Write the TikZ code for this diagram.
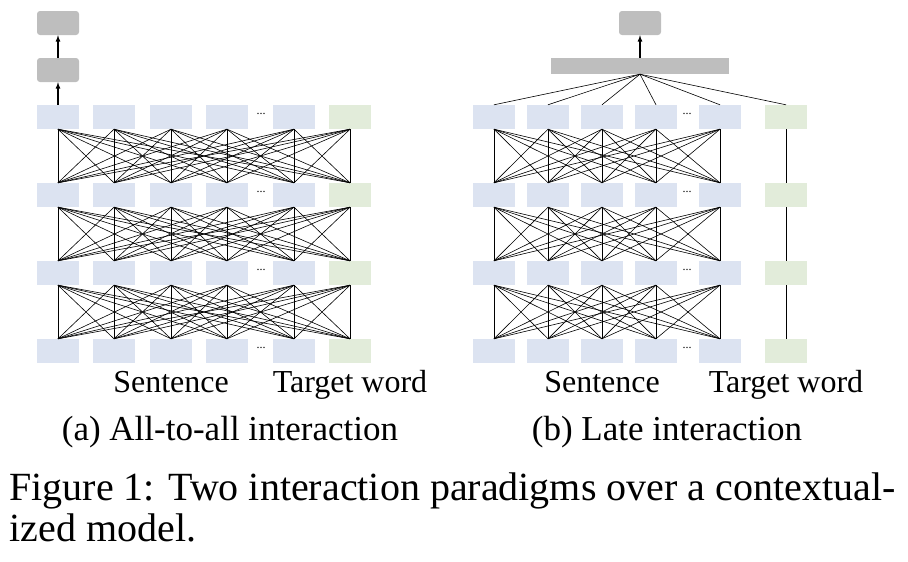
\documentclass[tikz,border=0pt]{standalone}
\usepackage{fontspec}
\setmainfont{Liberation Serif}
\usetikzlibrary{positioning, arrows}
\definecolor{tokblue}{RGB}{220,227,241}
\definecolor{tokgreen}{RGB}{226,236,218}
\definecolor{outgray}{RGB}{190,190,190}
\tikzset{
	tok/.style={minimum width=42pt, minimum height=24pt, inner sep=0pt},
	sent/.style={tok, fill=tokblue},
	targ/.style={tok, fill=tokgreen},
	outbox/.style={tok, fill=outgray, rounded corners=3pt},
	link/.style={line width=0.6pt},
	dots/.style={font=\fontsize{12}{12}\selectfont},
	lbl/.style={font=\fontsize{32}{36}\selectfont, anchor=base},
	sublbl/.style={font=\fontsize{35}{40}\selectfont, anchor=base},
	figcap/.style={font=\fontsize{40}{44}\selectfont, anchor=base west}
}
\begin{document}
\begin{tikzpicture}[x=1pt, y=-1pt]
	\useasboundingbox (0,0) rectangle (908,562);

	% (a) All-to-all
	\foreach \r/\y in {1/117, 2/195, 3/273, 4/351} {
		\foreach \c/\x in {1/58, 2/114, 3/171, 4/227, 5/294} {
			\node[sent] (a\r\c) at (\x,\y) {};
		}
		\node[targ] (a\r6) at (350,\y) {};
		\node[dots] (ad\r) at (261,\y-3) {...};
	}
	\foreach \r/\s in {1/2, 2/3, 3/4}
		\foreach \i in {1,...,6}
			\foreach \j in {1,...,6}
				\draw[link] (a\r\i.south) -- (a\s\j.north);
	\node[outbox] (ah) at (58,70) {};
	\node[outbox] (ao) at (58,23) {};
	\draw[-latex, line width=1.2pt] (a11.north) -- (ah.south);
	\draw[-latex, line width=1.2pt] (ah.north) -- (ao.south);
	\node[lbl] (asent) at (171,392) {Sentence};
	\node[lbl] (atarg) at (350,392) {Target word};
	\node[sublbl] (acap) at (230,440) {(a) All-to-all interaction};

	% (b) Late interaction
	\foreach \r/\y in {1/117, 2/195, 3/273, 4/351} {
		\foreach \c/\x in {1/494, 2/548, 3/602, 4/656, 5/720} {
			\node[sent] (b\r\c) at (\x,\y) {};
		}
		\node[targ] (b\r6) at (786,\y) {};
		\node[dots] (bd\r) at (687,\y-3) {...};
	}
	\foreach \r/\s in {1/2, 2/3, 3/4}
		\foreach \i in {1,...,5}
			\foreach \j in {1,...,5}
				\draw[link] (b\r\i.south) -- (b\s\j.north);
	\draw[link] (b16.south) -- (b26.north) (b26.south) -- (b36.north) (b36.south) -- (b46.north);
	\node[fill=outgray, minimum width=178pt, minimum height=16pt, inner sep=0pt] (bpool) at (640,66) {};
	\node[outbox] (bo) at (640,23) {};
	\foreach \i in {1,...,6}
		\draw[link] (bpool.south) -- (b1\i.north);
	\draw[-latex, line width=1.2pt] (bpool.north) -- (bo.south);
	\node[lbl] (bsent) at (602,392) {Sentence};
	\node[lbl] (btarg) at (786,392) {Target word};
	\node[sublbl] (bcap) at (667,440) {(b) Late interaction};

	% Caption
	\node[figcap] (fig1) at (6,500) {Figure 1: Two interaction paradigms over a contextual-};
	\node[figcap] (fig2) at (6,541) {ized model.};
\end{tikzpicture}
\end{document}
